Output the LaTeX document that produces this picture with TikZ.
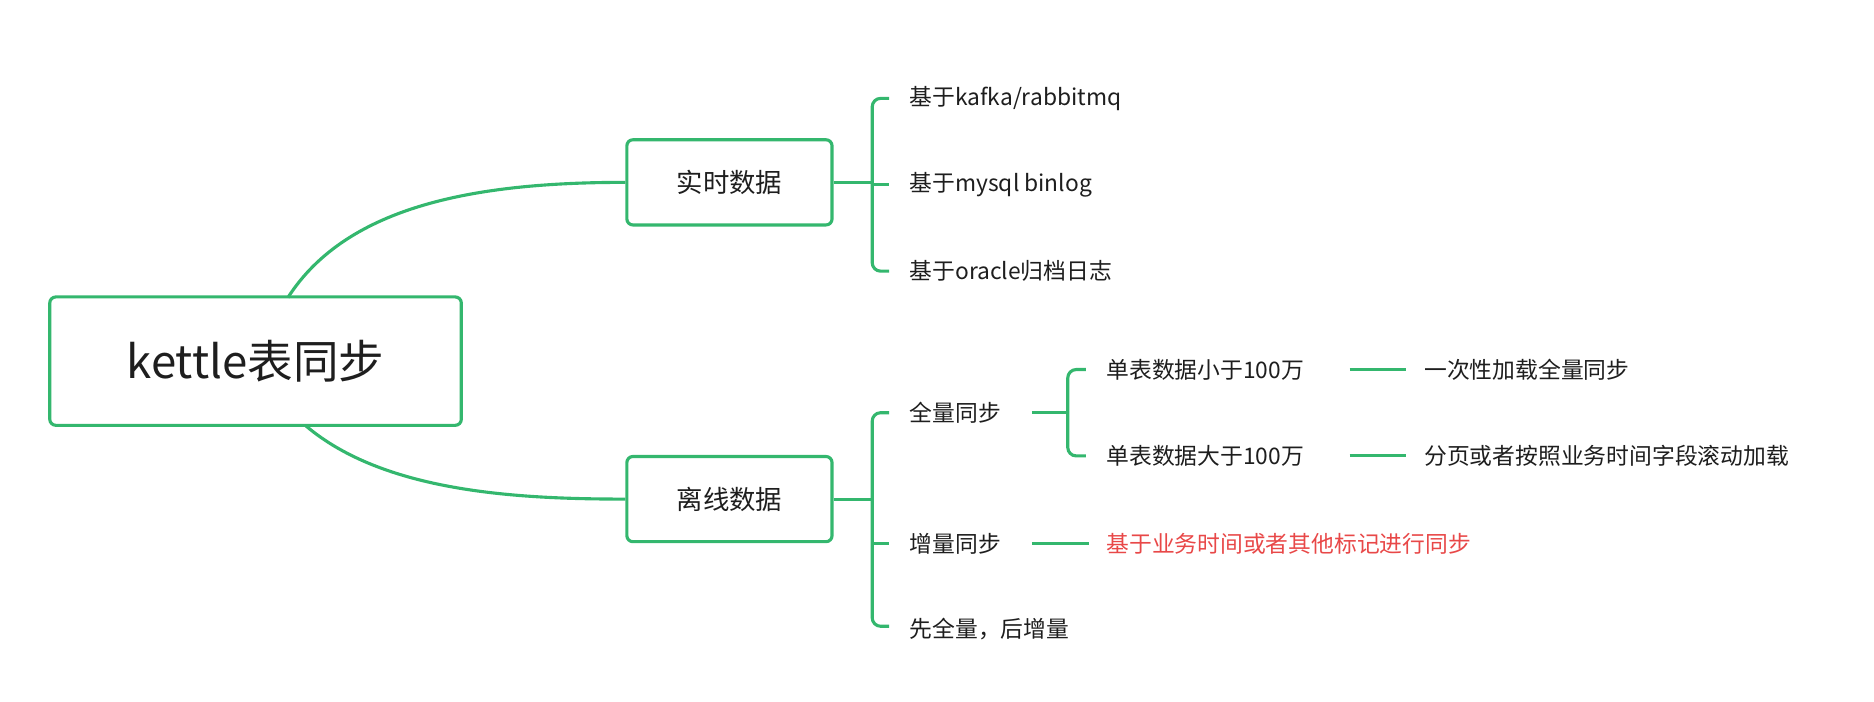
\documentclass[tikz,border=0pt]{standalone}
\usepackage{fontspec}
\setmainfont{Noto Sans CJK SC}
\definecolor{gr}{RGB}{52,183,110}
\definecolor{rd}{RGB}{232,72,72}
\definecolor{tx}{RGB}{30,30,30}
\begin{document}
\begin{tikzpicture}[x=1pt,y=-1pt,
 box/.style={draw=gr,line width=2.6pt,rounded corners=5pt,fill=white,text=tx,inner sep=0pt},
 ln/.style={draw=gr,line width=2.6pt},
 br/.style={draw=gr,line width=2.6pt,rounded corners=7pt},
 it/.style={anchor=west,text=tx,font=\fontsize{19}{19}\selectfont,inner sep=0pt}]
\useasboundingbox (0,0) rectangle (1562,585);
\node[box,minimum width=343pt,minimum height=107pt,font=\fontsize{38}{38}\selectfont] (root) at (213,301) {kettle表同步};
\node[box,minimum width=171pt,minimum height=71pt,font=\fontsize{22}{22}\selectfont] (rt) at (608,152) {实时数据};
\node[box,minimum width=171pt,minimum height=71pt,font=\fontsize{22}{22}\selectfont] (off) at (608,416) {离线数据};
\draw[ln] (240,248) .. controls (290,170) and (400,152) .. (rt.west);
\draw[ln] (255,355) .. controls (320,410) and (430,416) .. (off.west);
% realtime
\node[it] (a1) at (758,82) {基于kafka/rabbitmq};
\node[it] (a2) at (758,154) {基于mysql binlog};
\node[it] (a3) at (758,226) {基于oracle归档日志};
\draw[ln] (rt.east) -- (727,152);
\draw[br] (741,82) -| (727,226) -- (741,226);
\draw[ln] (727,154) -- (741,154);
% offline
\node[it] (b1) at (758,344) {全量同步};
\node[it] (b2) at (758,453) {增量同步};
\node[it] (b3) at (758,524) {先全量，后增量};
\draw[ln] (off.east) -- (727,416);
\draw[br] (741,344) -| (727,522) -- (741,522);
\draw[ln] (727,453) -- (741,453);
\node[it] (c1) at (922,308) {单表数据小于100万};
\node[it] (c2) at (922,380) {单表数据大于100万};
\draw[ln] (860,344) -- (890,344);
\draw[br] (905,308) -| (890,380) -- (905,380);
\node[it] (d1) at (1187,308) {一次性加载全量同步};
\node[it] (d2) at (1187,380) {分页或者按照业务时间字段滚动加载};
\draw[ln] (1125,308) -- (1172,308);
\draw[ln] (1125,380) -- (1172,380);
\node[it,text=rd] (e1) at (922,453) {基于业务时间或者其他标记进行同步};
\draw[ln] (860,453) -- (908,453);
\end{tikzpicture}
\end{document}
